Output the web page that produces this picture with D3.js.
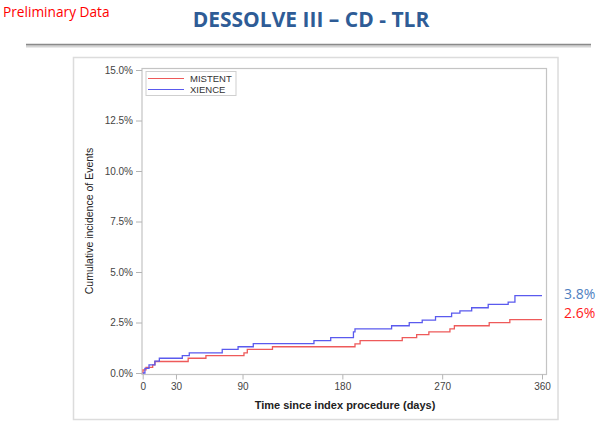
<!DOCTYPE html>
<head>
  <meta charset="utf-8">
  <script src="https://d3js.org/d3.v7.min.js"></script>
  <style>
    body { margin:0; background:#fff; }
    text { font-family: 'Liberation Sans', Arial, sans-serif; }
    .tick text { font-size: 10px; fill: #444; }
    .axis path, .axis line { stroke: #b4b4b4; }
    .km-line { fill: none; stroke-width: 1.3; }
  </style>
</head>
<body>
  <script>
    // tick labels
    var xTicks = [0, 30, 90, 180, 270, 360];
    var yTicks = [0, 2.5, 5, 7.5, 10, 12.5, 15];

    // XIENCE (blue) - day of event and cumulative incidence (%)
    var xienceDays = [0, 2, 5.7, 11, 15, 35.7, 42, 71.7, 86, 99.7, 154.4, 169.5, 190, 191.4, 224.4, 240.3, 252, 264, 278.5, 286, 296.6, 311.5, 329.5, 335.6, 360];
    var xiencePct  = [0, 0.23, 0.40, 0.59, 0.73, 0.86, 1.00, 1.17, 1.30, 1.45, 1.60, 1.75, 2.04, 2.18, 2.34, 2.49, 2.62, 2.79, 2.96, 3.08, 3.23, 3.40, 3.51, 3.83, 3.83];

    // MISTENT (red)
    var mistentDays = [0, 0.3, 3, 9, 11, 41, 57, 91.3, 94.3, 117, 191.4, 196, 234, 247, 258, 277, 281, 312.4, 331, 360];
    var mistentPct  = [0, 0.15, 0.28, 0.40, 0.57, 0.73, 0.86, 1.00, 1.17, 1.30, 1.44, 1.60, 1.75, 1.90, 2.04, 2.18, 2.34, 2.49, 2.64, 2.64];

    var seriesNames = ["MISTENT", "XIENCE"];
    var endLabels = ["3.8%", "2.6%"];

    var svg = d3.select("body").append("svg")
      .attr("width", 600)
      .attr("height", 423);

    // slide header
    svg.append("text")
      .attr("x", 3).attr("y", 17)
      .style("font-family", "'Open Sans', sans-serif")
      .style("font-size", "13.7px")
      .style("fill", "#ff0000")
      .text("Preliminary Data");

    svg.append("text")
      .attr("x", 311).attr("y", 27)
      .attr("text-anchor", "middle")
      .style("font-family", "'Open Sans', sans-serif")
      .style("font-weight", 700)
      .style("font-size", "21px")
      .style("fill", "#2e5c96")
      .text("DESSOLVE III \u2013 CD - TLR");

    svg.append("line")
      .attr("x1", 26).attr("x2", 591).attr("y1", 46).attr("y2", 46)
      .style("stroke", "#d4d4d4").style("stroke-width", 3);
    svg.append("line")
      .attr("x1", 26).attr("x2", 591).attr("y1", 44.5).attr("y2", 44.5)
      .style("stroke", "#8a8a8a").style("stroke-width", 1.5);

    // image frame
    svg.append("rect")
      .attr("x", 73.5).attr("y", 57.5)
      .attr("width", 484.5).attr("height", 362)
      .style("fill", "none").style("stroke", "#dcdcdc").style("stroke-width", 1.5);

    var x = d3.scaleLinear().domain([0, 360]).range([142.7, 542]);
    var y = d3.scaleLinear().domain([0, 15]).range([373, 70]);

    // plot frame
    svg.append("rect")
      .attr("x", 142).attr("y", 68.5)
      .attr("width", 404.5).attr("height", 306)
      .style("fill", "none").style("stroke", "#c4c4c4").style("stroke-width", 1.2);

    var yAxis = d3.axisLeft(y)
      .tickValues(yTicks)
      .tickFormat(d => d3.format(".1f")(d) + "%")
      .tickSize(6)
      .tickPadding(3);

    svg.append("g")
      .attr("class", "axis")
      .attr("transform", "translate(142,0)")
      .call(yAxis)
      .call(g => g.select(".domain").remove());

    var xAxis = d3.axisBottom(x)
      .tickValues(xTicks)
      .tickSize(5)
      .tickPadding(3);

    svg.append("g")
      .attr("class", "axis")
      .attr("transform", "translate(0,374.5)")
      .call(xAxis)
      .call(g => g.select(".domain").remove());

    svg.append("text")
      .attr("transform", "translate(93,221) rotate(-90)")
      .attr("text-anchor", "middle")
      .style("font-size", "10.5px")
      .style("fill", "#222")
      .text("Cumulative incidence of Events");

    svg.append("text")
      .attr("x", 345).attr("y", 409)
      .attr("text-anchor", "middle")
      .style("font-size", "11px")
      .style("font-weight", 700)
      .style("fill", "#222")
      .text("Time since index procedure (days)");

    var line = d3.line()
      .x(d => x(d[0]))
      .y(d => y(d[1]))
      .curve(d3.curveStepAfter);

    var series = [
      { name: seriesNames[0], color: "#ee5a5a", pts: d3.zip(mistentDays, mistentPct) },
      { name: seriesNames[1], color: "#5a5aee", pts: d3.zip(xienceDays, xiencePct) }
    ];

    svg.append("g").selectAll("path")
      .data(series)
      .enter().append("path")
        .attr("class", "km-line")
        .attr("d", d => line(d.pts))
        .style("stroke", d => d.color);

    // legend
    var legend = svg.append("g");
    legend.append("rect")
      .attr("x", 146).attr("y", 71.5)
      .attr("width", 90).attr("height", 24)
      .style("fill", "#fff").style("stroke", "#cfcfcf");
    var items = legend.selectAll("g.item")
      .data(series)
      .enter().append("g")
        .attr("transform", (d, i) => "translate(0," + (78.5 + i * 11) + ")");
    items.append("line")
      .attr("x1", 148).attr("x2", 184)
      .style("stroke", d => d.color).style("stroke-width", 1.2);
    items.append("text")
      .attr("x", 190).attr("dy", "0.35em")
      .style("font-size", "9.5px").style("fill", "#333")
      .text(d => d.name);

    // end values
    svg.append("text")
      .attr("x", 564).attr("y", 299)
      .style("font-family", "'Open Sans', sans-serif")
      .style("font-size", "14px")
      .style("fill", "#4f7fbf")
      .text(endLabels[0]);
    svg.append("text")
      .attr("x", 564).attr("y", 318)
      .style("font-family", "'Open Sans', sans-serif")
      .style("font-size", "14px")
      .style("fill", "#ff1a1a")
      .text(endLabels[1]);
  </script>
</body>
